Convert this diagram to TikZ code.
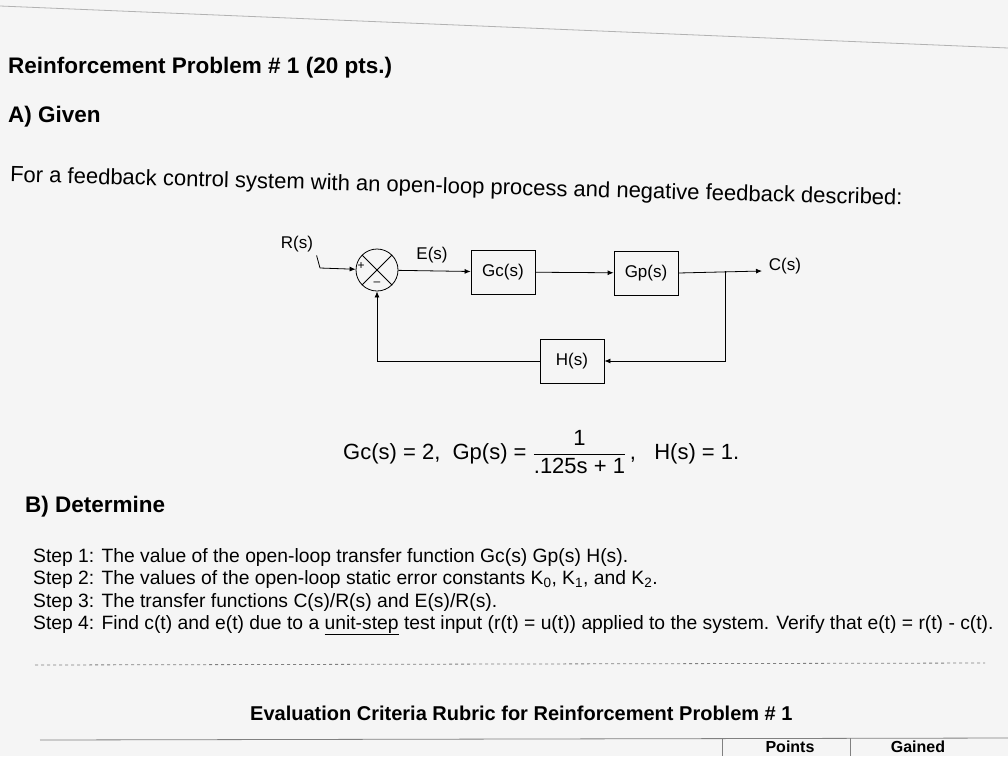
\documentclass[tikz,border=0pt]{standalone}
\usepackage{fontspec}
\setmainfont{Liberation Sans}
\usetikzlibrary{arrows.meta}
\begin{document}
\begin{tikzpicture}[x=1pt,y=-1pt,
  blk/.style={draw,thick,minimum width=64pt,minimum height=44pt,font=\fontsize{17}{19}\selectfont},
  lab/.style={font=\fontsize{17}{19}\selectfont},
  ln/.style={thick,-{Latex[length=6pt,width=5pt]}},
  txt/.style={anchor=west,inner sep=0pt,font=\fontsize{19.3}{22}\selectfont},
  hd/.style={anchor=west,inner sep=0pt,font=\fontsize{22.5}{25}\selectfont\bfseries}]
\fill[gray!8] (0,0) rectangle (1008,756);
\useasboundingbox (0,0) rectangle (1008,756);
\draw[gray!60,thick] (0,6) -- (1008,48);
\node[hd] (t1) at (8,68) {Reinforcement Problem \# 1 (20 pts.)};
\node[hd] (t2) at (8,117) {A) Given};
\node[anchor=west,inner sep=0pt,font=\fontsize{22}{25}\selectfont,rotate=-1.5] (t3) at (10,176) {For a feedback control system with an open-loop process and negative feedback described:};
% diagram
\node[draw,thick,circle,minimum size=42pt] (sum) at (377,270) {};
\draw[thick] (sum.north west) -- (sum.south east) (sum.north east) -- (sum.south west);
\node[font=\fontsize{12}{13}\selectfont] (plus) at (361,266) {+};
\node[font=\fontsize{12}{13}\selectfont] (minus) at (377,284) {\textendash};
\node[blk] (gc) at (503,272) {Gc(s)};
\node[blk] (gp) at (646,273) {Gp(s)};
\node[blk] (h) at (572,361) {H(s)};
\coordinate (in) at (320,268);
\coordinate (out) at (762,271);
\coordinate (br) at (725,271);
\node[lab] (rs) at (297,244) {R(s)};
\node[lab] (es) at (432,255) {E(s)};
\node[lab] (cs) at (785,266) {C(s)};
\draw[thick] (rs.south east) -- (in);
\draw[ln] (in) -- (sum);
\draw[ln] (sum) -- (gc);
\draw[ln] (gc) -- (gp);
\draw[ln] (gp.east) -- (out);
\draw[ln] (br) |- (h);
\draw[ln] (h) -| (sum);
% equation
\node[anchor=west,inner sep=0pt,font=\fontsize{22}{25}\selectfont] (eq) at (343,452)
 {Gc(s) = 2,\; Gp(s) = $\displaystyle\frac{\mbox{1}}{\mbox{.125s + 1}}$\,,\;\; H(s) = 1.};
\node[hd] (b) at (25,507) {B) Determine};
\node[txt] (s1) at (33,557) {Step 1: The value of the open-loop transfer function Gc(s) Gp(s) H(s).};
\node[txt] (s2) at (33,579) {Step 2: The values of the open-loop static error constants K\textsubscript{0}, K\textsubscript{1}, and K\textsubscript{2}.};
\node[txt] (s3) at (33,602) {Step 3: The transfer functions C(s)/R(s) and E(s)/R(s).};
\node[txt] (s4) at (33,625) {Step 4: Find c(t) and e(t) due to a \underline{unit-step} test input (r(t) = u(t)) applied to the system. Verify that e(t) = r(t) - c(t).};
\draw[gray,dashed,thick] (35,665) -- (985,663);
\node[anchor=west,inner sep=0pt,font=\fontsize{20}{23}\selectfont\bfseries] (ev) at (250,713) {Evaluation Criteria Rubric for Reinforcement Problem \# 1};
\draw[gray,thick] (40,740) -- (1008,738);
\draw[gray,thick] (722,738) -- (722,756) (850,738) -- (850,756);
\node[font=\fontsize{16}{18}\selectfont\bfseries,inner sep=0pt] (pt) at (790,747) {Points};
\node[font=\fontsize{16}{18}\selectfont\bfseries,inner sep=0pt] (ga) at (918,747) {Gained};
\end{tikzpicture}
\end{document}
